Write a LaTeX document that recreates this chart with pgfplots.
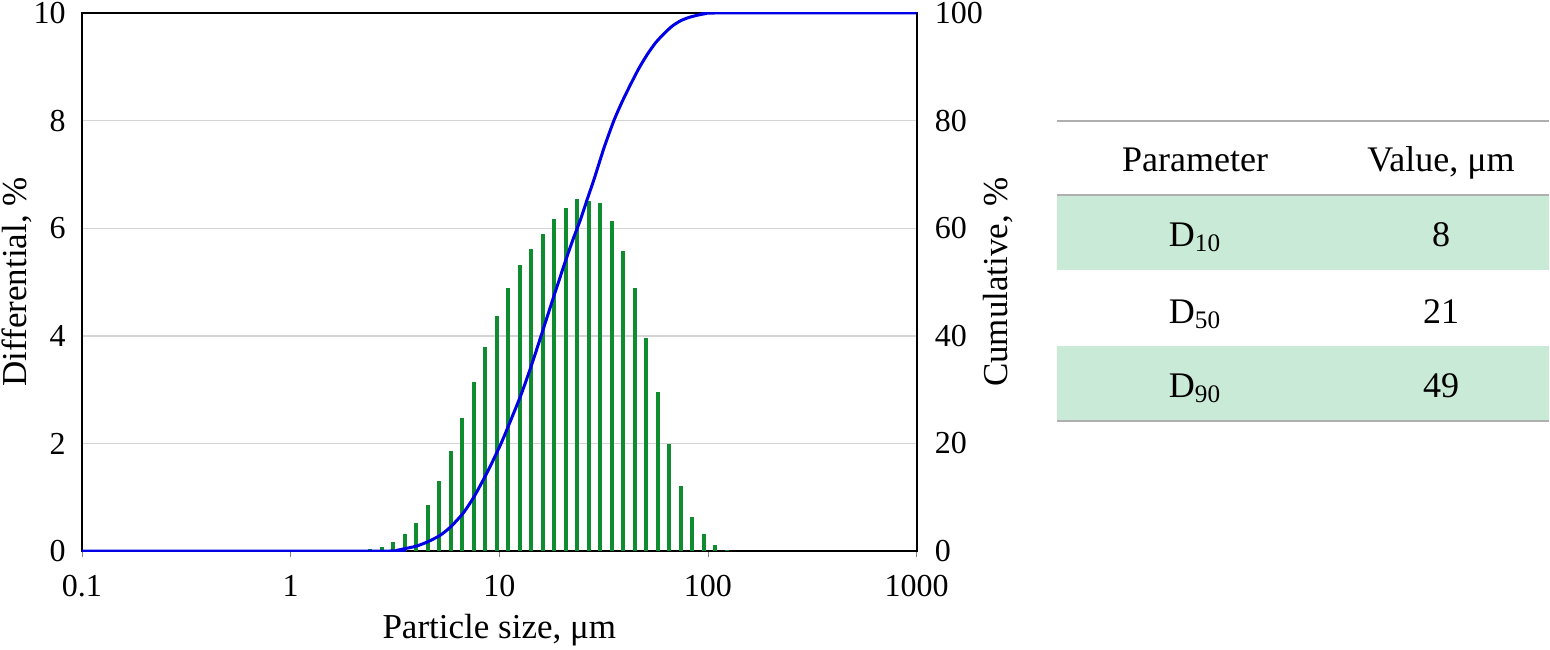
\documentclass[border=0pt]{standalone}
\usepackage{pgfplots}
\pgfplotsset{compat=1.18}
\usepackage{fontspec}
\setmainfont{Liberation Serif}

\definecolor{bargreen}{RGB}{16,140,48}
\definecolor{cumblue}{RGB}{0,0,230}
\definecolor{rowgreen}{RGB}{200,234,214}
\definecolor{gridgrey}{RGB}{212,212,212}
\definecolor{rulegrey}{RGB}{175,175,175}

% differential distribution: size (um), volume fraction (%)
\pgfplotstableread{
size diff
2.125 0.02
2.413 0.03
2.739 0.08
3.110 0.17
3.530 0.31
4.008 0.52
4.550 0.85
5.166 1.31
5.865 1.86
6.658 2.48
7.559 3.14
8.582 3.79
9.743 4.37
11.06 4.88
12.56 5.32
14.26 5.61
16.19 5.90
18.38 6.17
20.86 6.38
23.69 6.54
26.89 6.50
30.53 6.46
34.66 6.14
39.35 5.58
44.67 4.88
50.72 3.96
57.58 2.95
65.37 1.99
74.21 1.21
84.25 0.63
95.65 0.31
108.6 0.12
123.3 0.02
}\difftable

% cumulative distribution: size (um), undersize (%)
\pgfplotstableread{
size cum
0.1 0
2.9 0
3.2 0.1
3.48 0.4
4.0 0.9
4.53 1.7
5.2 2.9
5.85 4.5
6.7 7.0
7.57 10.1
8.8 14.8
10.2 20.0
11.4 24.5
12.7 29.0
14.2 34.3
15.8 39.8
18.2 47.2
20.8 54.0
22.6 58.0
24.6 61.8
26.4 65.4
28.4 69.0
31.8 75.0
35.5 80.1
39.0 83.7
42.8 86.9
46.8 89.8
51.4 92.4
56.2 94.5
61.7 96.2
67.6 97.6
74.3 98.6
81.5 99.2
89.3 99.6
98.0 99.9
108 100
1000 100
}\cumtable

\begin{document}
\begin{tikzpicture}
\begin{axis}[
  at={(0,0)}, anchor=south west,
  scale only axis, width=417.3pt, height=269pt,
  xmode=log, xmin=0.1, xmax=1000,
  tick align=outside, major tick length=3pt,
  axis line style={line width=0.9pt, black},
  /pgf/number format/assume math mode=true,
  tick label style={font=\fontsize{16}{19}\selectfont},
  label style={font=\fontsize{17.5}{21}\selectfont},
  ymin=0, ymax=10, ytick={0,2,...,10},
  xtick={0.1,1,10,100,1000}, xticklabels={0.1,1,10,100,1000},
  xminorticks=false, xtick pos=bottom, ytick pos=left,
  ymajorgrids, grid style={gridgrey, line width=0.7pt},
  ytick style={draw=none},
  yticklabel style={inner sep=0pt, xshift=-5pt},
  xticklabel style={inner sep=0pt, yshift=-9pt},
  xlabel={Particle size, μm}, ylabel={Differential, \%},
  x label style={at={(axis description cs:0.5,-0.1617)}, anchor=base},
  y label style={at={(axis description cs:-0.078,0.5)}, anchor=center},
]
\addplot[ycomb, bargreen, line width=2pt, mark=none] table[x=size, y=diff] {\difftable};
\end{axis}
\begin{axis}[
  at={(0,0)}, anchor=south west,
  scale only axis, width=417.3pt, height=269pt,
  xmode=log, xmin=0.1, xmax=1000,
  tick align=outside, major tick length=3pt,
  axis line style={line width=0.9pt, black},
  /pgf/number format/assume math mode=true,
  tick label style={font=\fontsize{16}{19}\selectfont},
  label style={font=\fontsize{17.5}{21}\selectfont},
  ymin=0, ymax=100, ytick={0,20,...,100},
  axis x line=none, axis y line*=right,
  ytick style={draw=none},
  yticklabel style={inner sep=0pt, xshift=6pt},
  ylabel={Cumulative, \%},
  y label style={at={(axis description cs:1.0976,0.5)}, anchor=center},
]
\addplot[cumblue, line width=1.5pt, line join=round, smooth, tension=0.4, mark=none] table[x=size, y=cum] {\cumtable};
\end{axis}

% parameter table
\fill[rowgreen] (487.5pt,140.5pt) rectangle (733.5pt,178pt);
\fill[rowgreen] (487.5pt,65pt) rectangle (733.5pt,102.5pt);
\draw[rulegrey, line width=0.8pt] (487.5pt,215pt) -- (733.5pt,215pt);
\draw[rulegrey, line width=0.6pt] (487.5pt,178pt) -- (733.5pt,178pt);
\draw[rulegrey, line width=0.8pt] (487.5pt,65pt) -- (733.5pt,65pt);
\begin{scope}[every node/.style={anchor=base, inner sep=0pt, font=\fontsize{18}{22}\selectfont}]
\node at (556.5pt,189.7pt) {Parameter};
\node at (679.5pt,189.7pt) {Value, μm};
\node at (556.5pt,152.2pt) {D\textsubscript{10}};
\node at (679.5pt,152.2pt) {8};
\node at (556.5pt,113.8pt) {D\textsubscript{50}};
\node at (679.5pt,113.8pt) {21};
\node at (556.5pt,76.8pt) {D\textsubscript{90}};
\node at (679.5pt,76.8pt) {49};
\end{scope}

\pgfresetboundingbox
\useasboundingbox (-41pt,-49pt) rectangle (734pt,275.5pt);
\end{tikzpicture}
\end{document}
